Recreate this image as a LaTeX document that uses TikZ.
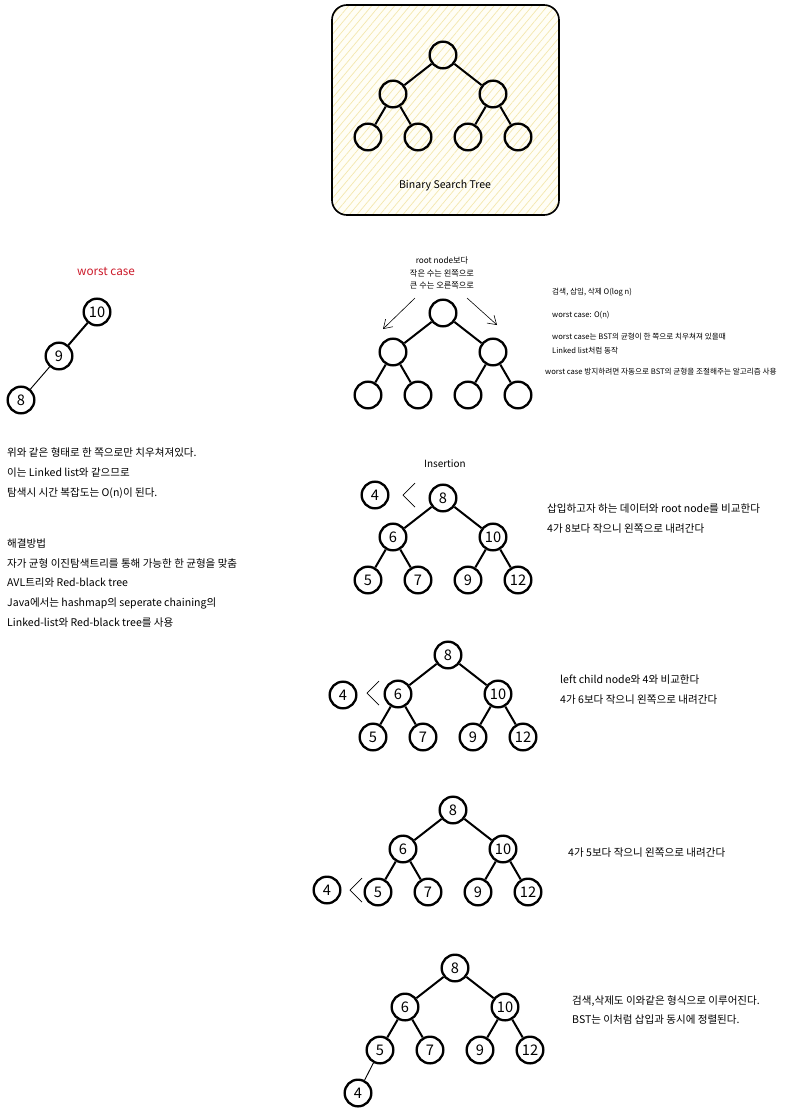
\documentclass[tikz,border=0pt]{standalone}
\usepackage{fontspec}
\setmainfont{Noto Sans CJK KR}
\usetikzlibrary{arrows.meta,positioning,calc,patterns.meta}
\definecolor{Wc}{HTML}{CC1A2A}
\definecolor{hatch}{HTML}{F4E7AE}
\definecolor{boxbg}{HTML}{FFFEF6}
\tikzset{
  key/.style={circle, draw=black, line width=2pt, inner sep=0pt, minimum size=0.8cm, font=\fontsize{12.5}{12.5}\selectfont},
  edge/.style={line width=1.7pt},
  thinedge/.style={line width=0.8pt},
  note/.style={anchor=west, align=left, inner sep=0pt, font=\fontsize{9}{17}\selectfont},
  smallnote/.style={anchor=west, align=left, inner sep=0pt, font=\fontsize{6.5}{12}\selectfont},
  hint/.style={-{Straight Barb[length=7pt,width=9pt]}, line width=0.5pt},
  ltmark/.style={line width=0.6pt},
  bstbox/.style={draw=black, line width=1.4pt, rounded corners=0.45cm,
    minimum width=6.81cm, minimum height=6.3cm,
    preaction={fill=boxbg},
    preaction={pattern={Lines[angle=50, distance=5pt, line width=0.6pt]}, pattern color=hatch}},
}
% seven-key tree: prefix, root position, labels root/left/right/leaves
\newcommand{\bsttree}[9]{%
  \node[key] (#1r) at #2 {#3};
  \node[key] (#1l) at ($(#1r)+(-50,39)$) {#4};
  \node[key] (#1g) at ($(#1r)+(50,39)$) {#5};
  \node[key] (#1ll) at ($(#1l)+(-25,43)$) {#6};
  \node[key] (#1lr) at ($(#1l)+(25,43)$) {#7};
  \node[key] (#1gl) at ($(#1g)+(-25,43)$) {#8};
  \node[key] (#1gr) at ($(#1g)+(25,43)$) {#9};
  \foreach \p/\c in {r/l,r/g,l/ll,l/lr,g/gl,g/gr} \draw[edge] (#1\p) -- (#1\c);}
\newcommand{\lessmark}[2]{%
  \coordinate (#1) at #2;
  \draw[ltmark] ($(#1)+(12,-12)$) -- (#1) -- ($(#1)+(12,12)$);}

\begin{document}
\begin{tikzpicture}[x=0.03cm, y=-0.03cm]
  \useasboundingbox[fill=white] (0,0) rectangle (800,1114);
  % overview
  \node[bstbox] (bstbox) at (445.5,110) {};
  \bsttree{a}{(443,55)}{}{}{}{}{}{}{}
  \node[font=\fontsize{9}{9}\selectfont] (bsttitle) at (445,186) {Binary Search Tree};
  % worst case
  \node[text=Wc, font=\fontsize{10}{10}\selectfont] (worsttitle) at (106,271) {worst case};
  \node[key] (w10) at (97,312) {10};
  \node[key] (w9) at (59,356) {9};
  \node[key] (w8) at (21,400) {8};
  \draw[edge] (w10) -- (w9);
  \draw[thinedge] (w9) -- (w8);
  \node[note] (worstnote) at (7,473) {위와 같은 형태로 한 쪽으로만 치우쳐져있다.\\이는 Linked list와 같으므로\\탐색시 시간 복잡도는 O(n)이 된다.};
  \node[note] (fixnote) at (7,583) {해결방법\\자가 균형 이진탐색트리를 통해 가능한 한 균형을 맞춤\\AVL트리와 Red-black tree\\Java에서는 hashmap의 seperate chaining의\\Linked-list와 Red-black tree를 사용};
  % rule
  \node[align=center, inner sep=0pt, font=\fontsize{7}{11}\selectfont] (rootnote) at (442,273) {root node보다\\작은 수는 왼쪽으로\\큰 수는 오른쪽으로};
  \coordinate (hintL) at (415,298);
  \coordinate (hintLe) at (383,329);
  \coordinate (hintR) at (467,298);
  \coordinate (hintRe) at (497,325);
  \draw[hint] (hintL) -- (hintLe);
  \draw[hint] (hintR) -- (hintRe);
  \bsttree{b}{(443,313)}{}{}{}{}{}{}{}
  \node[smallnote] (cost1) at (552,292) {검색, 삽입, 삭제 O(log n)};
  \node[smallnote] (cost2) at (552,315) {worst case: O(n)};
  \node[smallnote] (cost3) at (552,344) {worst case는 BST의 균형이 한 쪽으로 치우쳐져 있을때\\Linked list처럼 동작};
  \node[smallnote] (cost4) at (545,372) {worst case 방지하려면 자동으로 BST의 균형을 조절해주는 알고리즘 사용};
  % insertion
  \node[font=\fontsize{8.5}{8.5}\selectfont] (institle) at (445,464) {Insertion};
  \node[key] (c4) at (375,495) {4};
  \lessmark{clt}{(403,495)}
  \bsttree{c}{(443,498)}{8}{6}{10}{5}{7}{9}{12}
  \node[note] (step1) at (547,519) {삽입하고자 하는 데이터와 root node를 비교한다\\4가 8보다 작으니 왼쪽으로 내려간다};
  \node[key] (d4) at (343,695) {4};
  \lessmark{dlt}{(367,693)}
  \bsttree{d}{(448,655)}{8}{6}{10}{5}{7}{9}{12}
  \node[note] (step2) at (560,690) {left child node와 4와 비교한다\\4가 6보다 작으니 왼쪽으로 내려간다};
  \node[key] (e4) at (327,890) {4};
  \lessmark{elt}{(350,890)}
  \bsttree{e}{(453,810)}{8}{6}{10}{5}{7}{9}{12}
  \node[note] (step3) at (568,853) {4가 5보다 작으니 왼쪽으로 내려간다};
  \bsttree{f}{(455,968)}{8}{6}{10}{5}{7}{9}{12}
  \node[key] (f4) at (358,1093) {4};
  \draw[thinedge] (fll) -- (f4);
  \node[note] (step4) at (572,1010) {검색,삭제도 이와같은 형식으로 이루어진다.\\BST는 이처럼 삽입과 동시에 정렬된다.};
\end{tikzpicture}
\end{document}
